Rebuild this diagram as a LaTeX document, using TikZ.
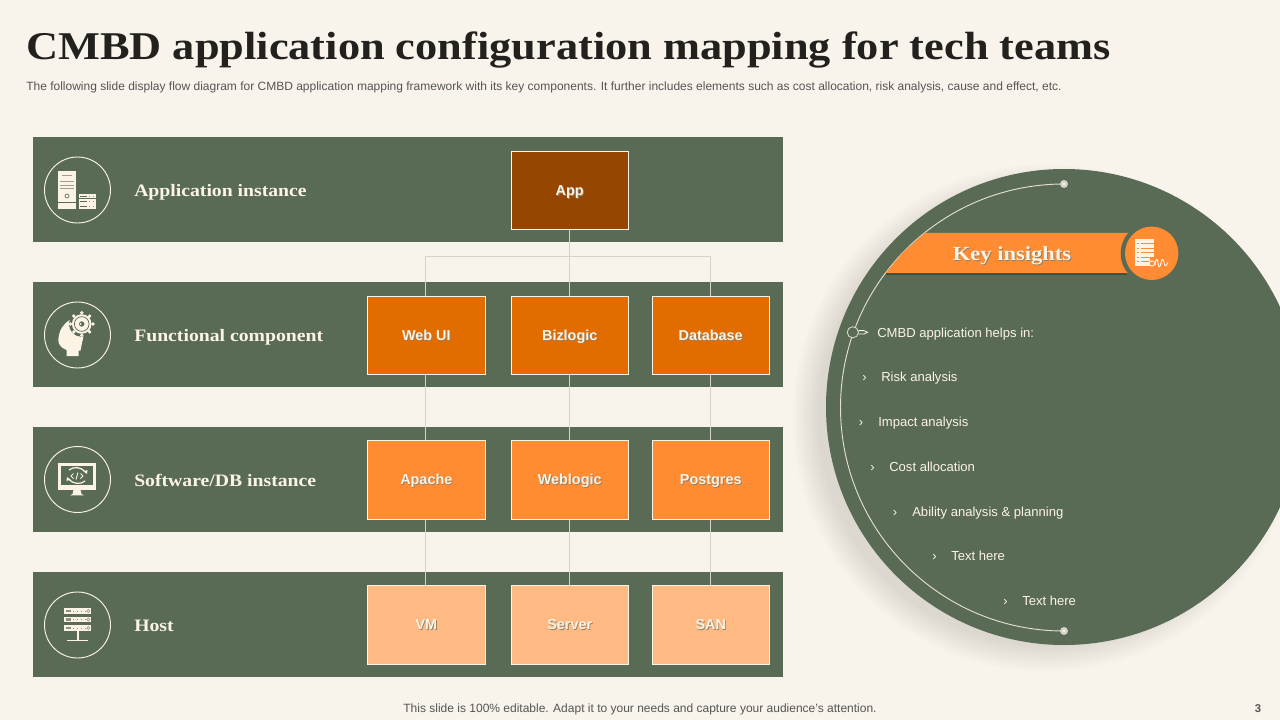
\documentclass[tikz,border=0pt]{standalone}
\usepackage{fontspec}
\setmainfont{Liberation Sans}
\newfontfamily\gfont[FakeStretch=1.128]{Liberation Serif}
\usetikzlibrary{calc}
\definecolor{bgc}{HTML}{F8F4EC}
\definecolor{bar}{HTML}{5A6B55}
\definecolor{ink}{HTML}{23211E}
\definecolor{cream}{HTML}{FBF3E4}
\definecolor{c1}{HTML}{964600}
\definecolor{c2}{HTML}{E36C00}
\definecolor{c3}{HTML}{FF8B33}
\definecolor{c4}{HTML}{FFB983}
\definecolor{wire}{HTML}{D3D2CB}
\definecolor{grayt}{HTML}{555555}
\definecolor{shad}{HTML}{6B4A20}
\newcommand{\shd}[1]{\leavevmode\rlap{\kern.7pt\raisebox{-.7pt}{\textcolor{shad!70}{#1}}}#1}
\tikzset{
 x=0.75pt,y=-0.75pt,
 tile/.style={draw=cream,line width=0.8pt,minimum width=88pt,minimum height=59pt,inner sep=0pt,text height=9pt,text depth=2pt,font=\bfseries\fontsize{10.8pt}{12pt}\selectfont,text=cream},
 widetile/.style={tile,minimum width=88.5pt},
 rowlabel/.style={anchor=west,inner sep=0pt,text height=9pt,text depth=3pt,font=\gfont\bfseries\fontsize{13.1pt}{15pt}\selectfont,text=cream},
 ringnode/.style={draw=cream,fill=none,circle,line width=0.7pt,minimum size=49.5pt,inner sep=0pt},
 wireline/.style={draw=wire,line width=0.75pt},
 bul/.style={anchor=west,inner sep=0pt,text height=7.5pt,text depth=2pt,font=\fontsize{9.8pt}{11pt}\selectfont,text=cream},
}
\begin{document}
\begin{tikzpicture}
\clip (0,0) rectangle (1280,720);
\fill[bgc] (0,0) rectangle (1280,720);
% title
\node[anchor=west,inner sep=0pt,text=ink,font=\gfont\bfseries\fontsize{29.5pt}{32pt}\selectfont] (title) at (26,50) {CMBD application configuration mapping for tech teams};
\node[anchor=west,inner sep=0pt,text=grayt,font=\fontsize{9pt}{11pt}\selectfont] (sub) at (26,87.5) {The following slide display flow diagram for CMBD  application mapping framework with its key components. It further includes elements such as cost allocation, risk analysis, cause and effect, etc.};
% bars
\foreach \t in {137,282,427,572}{\fill[bar] (33,\t) rectangle (783,\t+105);}
% rings
\node[ringnode] (r1) at (77.5,190) {};
\node[ringnode] (r2) at (77.5,335) {};
\node[ringnode] (r3) at (77.5,479.5) {};
\node[ringnode] (r4) at (77.5,625) {};
% labels
\node[rowlabel] (l1) at (134,192.5) {Application instance};
\node[rowlabel] (l2) at (134,337.5) {Functional component};
\node[rowlabel] (l3) at (134,482.5) {Software/DB  instance};
\node[rowlabel] (l4) at (134,627.5) {Host};
% tiles
\node[tile,fill=c1] (app) at (569.7,190.5) {\shd{App}};
\node[widetile,fill=c2] (webui) at (426.3,335.5) {\shd{Web UI}};
\node[tile,fill=c2] (biz) at (569.7,335.5) {\shd{Bizlogic}};
\node[tile,fill=c2] (db) at (710.7,335.5) {\shd{Database}};
\node[widetile,fill=c3] (apache) at (426.3,480) {\shd{Apache}};
\node[tile,fill=c3] (weblogic) at (569.7,480) {\shd{Weblogic}};
\node[tile,fill=c3] (pg) at (710.7,480) {\shd{Postgres}};
\node[widetile,fill=c4] (vm) at (426.3,625) {\shd{VM}};
\node[tile,fill=c4] (server) at (569.7,625) {\shd{Server}};
\node[tile,fill=c4] (san) at (710.7,625) {\shd{SAN}};
% connectors
\coordinate (bus) at (569.7,256.5);
\draw[wireline] (app.south) -- (biz.north);
\draw[wireline] (bus) -| ([xshift=-0.5pt]webui.north);
\draw[wireline] (bus) -| (db.north);
\draw[wireline] ([xshift=-0.5pt]webui.south) -- ([xshift=-0.5pt]apache.north);
\draw[wireline] (biz.south) -- (weblogic.north);
\draw[wireline] (db.south) -- (pg.north);
\draw[wireline] ([xshift=-0.5pt]apache.south) -- ([xshift=-0.5pt]vm.north);
\draw[wireline] (weblogic.south) -- (server.north);
\draw[wireline] (pg.south) -- (san.north);
% icon 1: server
\fill[cream] (58,171) rectangle (76,209);
\draw[bar!60!cream,line width=0.5pt] (62,175) -- (72,175);
\draw[bar!60!cream,line width=0.7pt] (60,181.5) -- (74,181.5) (60,185) -- (74,185) (60,188) -- (74,188);
\draw[bar,line width=0.5pt] (67,196) circle[radius=1.5pt];
\draw[bar,line width=0.6pt] (58,202) -- (76,202);
\foreach \t in {194,199.2,204.4}{
 \fill[cream] (78.5,\t) rectangle (96,\t+4.4);
 \draw[bar,line width=0.8pt] (80,\t+2.2) -- (87,\t+2.2);
 \draw[bar!60!cream,line width=0.5pt,dash pattern=on 0.7pt off 2pt] (89,\t+2.2) -- (95,\t+2.2);
}
% icon 2: head with gear
\fill[cream] (66.5,356) -- (66.5,350) .. controls (61,348) and (58,344) .. (58.3,339.5) .. controls (58.8,333) and (61,328) .. (64,325) .. controls (67,321) and (71,319) .. (75,318) -- (85,330) -- (82,343) -- (80.5,350.5) -- (78.5,350.5) -- (78.5,356) -- cycle;
\fill[bar] (81.7,324) circle[radius={12.8*0.75pt}];
\fill[cream] (81.7,324) circle[radius={9.8*0.75pt}];
\foreach \a in {0,45,...,315}{\fill[cream] ($(81.7,324)+(\a:11.2 and 11.2)$) circle[radius=1.4pt];}
\draw[bar,line width=0.5pt] (81.7,324) circle[radius=5.5pt];
\fill[bar] (81.7,324) circle[radius=2pt];
\fill[cream] (80.6,324) circle[radius=0.8pt];
% icon 3: monitor
\fill[cream] (58.3,463.3) rectangle (95.7,490);
\fill[bar] (60.7,465.7) rectangle (93.3,485);
\fill[cream] (73.5,490) -- (80.5,490) -- (81.5,494) -- (84,495.3) -- (70,495.3) -- (72.5,494) -- cycle;
\draw[cream,line width=0.9pt] (69,470) .. controls (73,466.5) and (81,466.5) .. (85.5,472);
\draw[cream,line width=0.9pt] (85,481) .. controls (81,484.5) and (73,484.5) .. (68.5,479);
\fill[cream] (87,474) -- (83.5,471.5) -- (87.5,470) -- cycle;
\fill[cream] (67,477) -- (70.5,479.5) -- (66.5,481) -- cycle;
\draw[cream,line width=0.7pt] (73.5,473.5) -- (71,476) -- (73.5,478.5);
\draw[cream,line width=0.7pt] (80.5,473.5) -- (83,476) -- (80.5,478.5);
\draw[cream,line width=0.7pt] (78,472.5) -- (76,479.5);
% icon 4: network host
\foreach \t in {608.3,616.8,625.4}{
 \fill[cream] (64,\t) rectangle (91,\t+5.3);
 \fill[bar!70!cream] (65.5,\t+1.3) rectangle (70.5,\t+4);
 \draw[bar!70!cream,line width=0.5pt,dash pattern=on 0.7pt off 2.2pt] (73,\t+2.65) -- (85,\t+2.65);
 \draw[bar!70!cream,line width=0.4pt] (88.3,\t+2.65) circle[radius=1.2pt];
}
\fill[cream] (76.5,630.7) rectangle (78.5,640);
\fill[cream] (66.5,640) rectangle (87.8,641.2);
% insights circle soft shadow
\foreach \i in {1,...,14}{
 \fill[black,opacity=0.009] (1046,418) circle[radius={(226+\i*2)*0.75pt}];
}
\fill[bar] (1064,407) circle[radius={238*0.75pt}];
\coordinate (arcTop) at (1064,184);
\coordinate (arcBot) at (1064,631);
\draw[cream!85!bar,line width=0.7pt] (arcTop) arc[start angle=90,end angle=270,radius={223.5*0.75pt}];
\fill[wire] (arcTop) circle[radius=3pt];
\fill[cream] (arcTop) circle[radius=1.2pt];
\fill[wire] (arcBot) circle[radius=3pt];
\fill[cream] (arcBot) circle[radius=1.2pt];
% banner
\fill[bar!70!black] (885.5,274.5) -- (1127,274.5) -- (1127,272) -- (885.5,272) -- cycle;
\fill[c3] (885.5,273) -- (902.5,253) -- (924.8,233) -- (1130,233) -- (1130,273) -- cycle;
\fill[bar] (1151.7,253.3) circle[radius={31*0.75pt}];
\fill[c3] (1151.7,253.3) circle[radius={26.7*0.75pt}];
\node[inner sep=0pt,text=cream,text height=10pt,text depth=3pt,font=\gfont\bfseries\fontsize{15pt}{17pt}\selectfont] (ki) at (1012,256) {\shd{Key insights}};
% doc icon
\fill[cream] (1135,239) rectangle (1154.3,266);
\foreach \t in {243.5,248,252.5,257,261.5}{
 \draw[c3,line width=0.5pt] (1137,\t) -- (1139,\t) (1140.5,\t) -- (1154.3,\t);
}
\fill[c3] (1150,258) rectangle (1156,268);
\draw[cream,line width=0.7pt] (1152,263.5) circle[radius=2pt];
\draw[cream,line width=0.7pt] (1155,265) .. controls (1156,258) and (1157.5,258) .. (1158,263) .. controls (1158.5,268) and (1160,268) .. (1161,263) .. controls (1162,258) and (1163,259) .. (1164,262) .. controls (1164.5,267) and (1166,267) .. (1168,262);
% marker
\draw[cream!85!bar,line width=0.6pt,fill=bar] (852.8,332.3) circle[radius=4.2pt];
\draw[cream,line width=0.6pt] (858.3,330.6) -- (864,330.6) -- (867.5,332.3) -- (864,334) -- (858.3,334);
% bullets
\node[bul] (t0) at (877,333.5) {CMBD application helps in:};
\node[bul] (b1m) at (862,377.5) {›};
\node[bul] (b1) at (881,377.5) {Risk analysis};
\node[bul] (b2m) at (858.5,422.5) {›};
\node[bul] (b2) at (878,422.5) {Impact analysis};
\node[bul] (b3m) at (870,467.5) {›};
\node[bul] (b3) at (889,467.5) {Cost allocation};
\node[bul] (b4m) at (892.5,512.5) {›};
\node[bul] (b4) at (912,512.5) {Ability analysis \& planning};
\node[bul] (b5m) at (932,556.5) {›};
\node[bul] (b5) at (951,556.5) {Text here};
\node[bul] (b6m) at (1003,601.5) {›};
\node[bul] (b6) at (1022,601.5) {Text here};
% footer
\node[inner sep=0pt,text=grayt,font=\fontsize{9pt}{11pt}\selectfont] (foot) at (640,709) {This slide is 100\% editable. Adapt it to your needs and capture your audience's attention.};
\node[inner sep=0pt,text=grayt,font=\bfseries\fontsize{8.5pt}{10pt}\selectfont] (pg3) at (1258,708.5) {3};
\end{tikzpicture}
\end{document}
